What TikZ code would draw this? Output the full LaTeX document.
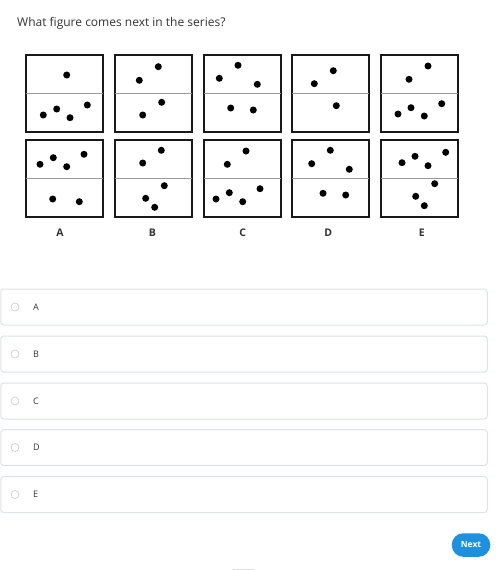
\documentclass[tikz,border=0pt]{standalone}
\usepackage{fontspec}
\setmainfont{Open Sans}
\definecolor{optborder}{HTML}{DCE3EA}
\definecolor{radio}{HTML}{C9C9C9}
\definecolor{btnblue}{HTML}{1E90E0}
\definecolor{txt}{HTML}{333333}
\newcommand{\mypanel}[4]{%
  \node[panelbox] (#1) at (#2+38.5,#3+38.5) {};
  \draw[divline] (#1.west) -- (#1.east);
  \begin{scope}[shift={(#2,#3)}]
    \foreach \px/\py in {#4} { \fill (\px,\py) circle (3.5); }
  \end{scope}}
\begin{document}
\begin{tikzpicture}[x=1pt,y=-1pt,
  panelbox/.style={draw=black!90,line width=1.5pt,minimum width=77pt,minimum height=77pt,inner sep=0pt,outer sep=0pt},
  divline/.style={draw=gray!80,line width=0.9pt},
  optbox/.style={draw=optborder,line width=1pt,rounded corners=3pt,minimum width=486.5pt,minimum height=36pt,inner sep=0pt},
  radiobtn/.style={circle,draw=radio,line width=0.6pt,minimum size=8pt,inner sep=0pt},
  optlabel/.style={font=\fontsize{9}{11}\selectfont,text=txt,anchor=west,inner sep=0pt},
  plabel/.style={font=\fontsize{10.5}{12}\selectfont\bfseries,text=txt},
  nextbtn/.style={fill=btnblue,rounded corners=11.5pt,minimum width=38.5pt,minimum height=23.5pt,inner sep=0pt,text=white,font=\fontsize{8.5}{10}\selectfont\bfseries}]
\useasboundingbox[fill=white] (0,0) rectangle (500,570);
\node[anchor=base west,inner sep=0pt,font=\fontsize{12}{14}\selectfont,text=txt] (title) at (17,26.5) {What figure comes next in the series?};
% top row
\mypanel{t1}{26}{55}{40.7/20, 17.3/60, 30.7/54, 44/62.7, 61.3/50}
\mypanel{t2}{115}{55}{24.3/25.3, 43.3/11.7, 46.7/47.3, 27.7/60}
\mypanel{t3}{204}{55}{15.3/23.3, 34/10.3, 53.3/29.3, 26.7/53, 49.3/55}
\mypanel{t4}{292}{55}{22.3/28.7, 41.3/15.7, 44.3/50.7}
\mypanel{t5}{381}{55}{28/24.3, 47/11, 17/59, 30/52.7, 43.3/61, 60.7/48.7}
% answer row
\mypanel{pA}{26}{140}{14/24.3, 27.3/17.7, 40.7/26.7, 58/14.3, 26.7/59, 53.3/61.7}
\mypanel{pB}{115}{140}{27.7/23, 46.3/10.3, 49.3/45.7, 30.7/58.3, 39.7/67.3}
\mypanel{pC}{204}{140}{23.3/24.3, 42/11, 12/59, 25.3/52.7, 38.7/61.7, 56/48.7}
\mypanel{pD}{292}{140}{19.7/23.7, 38.3/10.3, 57.3/29.3, 31/53.3, 53.7/55}
\mypanel{pE}{381}{140}{21/22.7, 34/16.3, 47/25.7, 64.7/12.3, 53.7/43.7, 34.7/56.3, 43.3/65.7}
\node[plabel] (lA) at (60,233) {A};
\node[plabel] (lB) at (152.3,233) {B};
\node[plabel] (lC) at (242.7,233) {C};
\node[plabel] (lD) at (328.3,233) {D};
\node[plabel] (lE) at (421.7,233) {E};
% options
\foreach \L/\yy in {A/307, B/354, C/401, D/447.5, E/494.5} {
  \node[optbox] (opt\L) at (244,\yy) {};
  \node[radiobtn] (rad\L) at (15,\yy) {};
  \node[optlabel] (olab\L) at (33,\yy) {\L};
}
\node[nextbtn] (next) at (471,545) {Next};
\draw[gray!25,line width=1.5pt] (233,569.5) -- (254,569.5);
\end{tikzpicture}
\end{document}
